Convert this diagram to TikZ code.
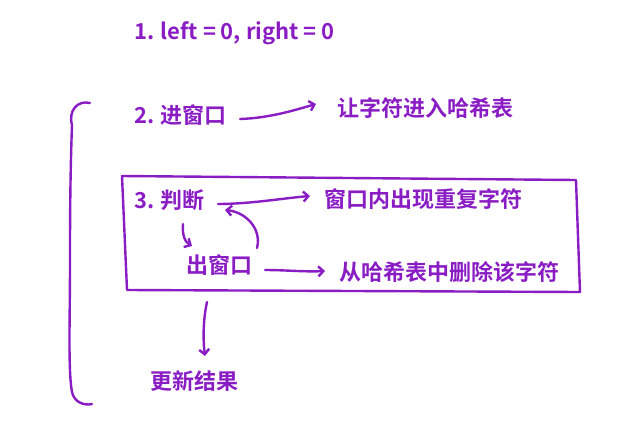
\documentclass[tikz,border=0pt]{standalone}
\usepackage{fontspec}
\setmainfont{Noto Sans CJK SC}[BoldFont={Noto Sans CJK SC Bold}]
\definecolor{pp}{HTML}{8A1CC4}
\tikzset{lbl/.style={text=pp,font=\bfseries\fontsize{22}{24}\selectfont,inner sep=0pt,anchor=west},
 ln/.style={draw=pp,line width=2.4pt,line cap=round,line join=round},
 ar/.style={ln,-{Straight Barb[length=5pt,width=10pt]}}}
\usetikzlibrary{arrows.meta}
\begin{document}
\begin{tikzpicture}[x=1pt,y=-1pt]
\useasboundingbox (0,0) rectangle (630,421);
\node[lbl] (t1) at (134,33) {1. left = 0, right = 0};
\node[lbl] (t2) at (134,115) {2. 进窗口};
\node[lbl] (t2r) at (337,108) {让字符进入哈希表};
\node[lbl] (t3) at (134,200) {3. 判断};
\node[lbl] (t3r) at (324,199) {窗口内出现重复字符};
\node[lbl] (t4) at (186,265) {出窗口};
\node[lbl] (t4r) at (339,272) {从哈希表中删除该字符};
\node[lbl] (t5) at (150,381) {更新结果};
% brace
\draw[ln] (90,103) .. controls (78,100) and (68,110) .. (72,125) .. controls (70,180) and (70,230) .. (70,262)
 .. controls (70,320) and (68,370) .. (72,392) .. controls (74,402) and (84,406) .. (92,404);
% window box
\draw[ln] (122,176) -- (576,180) -- (580,292) -- (127,290) -- cycle;
% arrows
\draw[ar] (240,119) .. controls (270,118) and (295,110) .. (316,104);
\draw[ar] (218,204) .. controls (250,204) and (285,198) .. (310,196);
\draw[ar] (183,224) .. controls (182,235) and (185,242) .. (192,246);
\draw[ar] (257,248) .. controls (262,228) and (245,212) .. (225,210);
\draw[ar] (265,270) .. controls (285,270) and (305,272) .. (325,271);
\draw[ar] (207,302) .. controls (203,320) and (203,340) .. (205,356);
\end{tikzpicture}
\end{document}
